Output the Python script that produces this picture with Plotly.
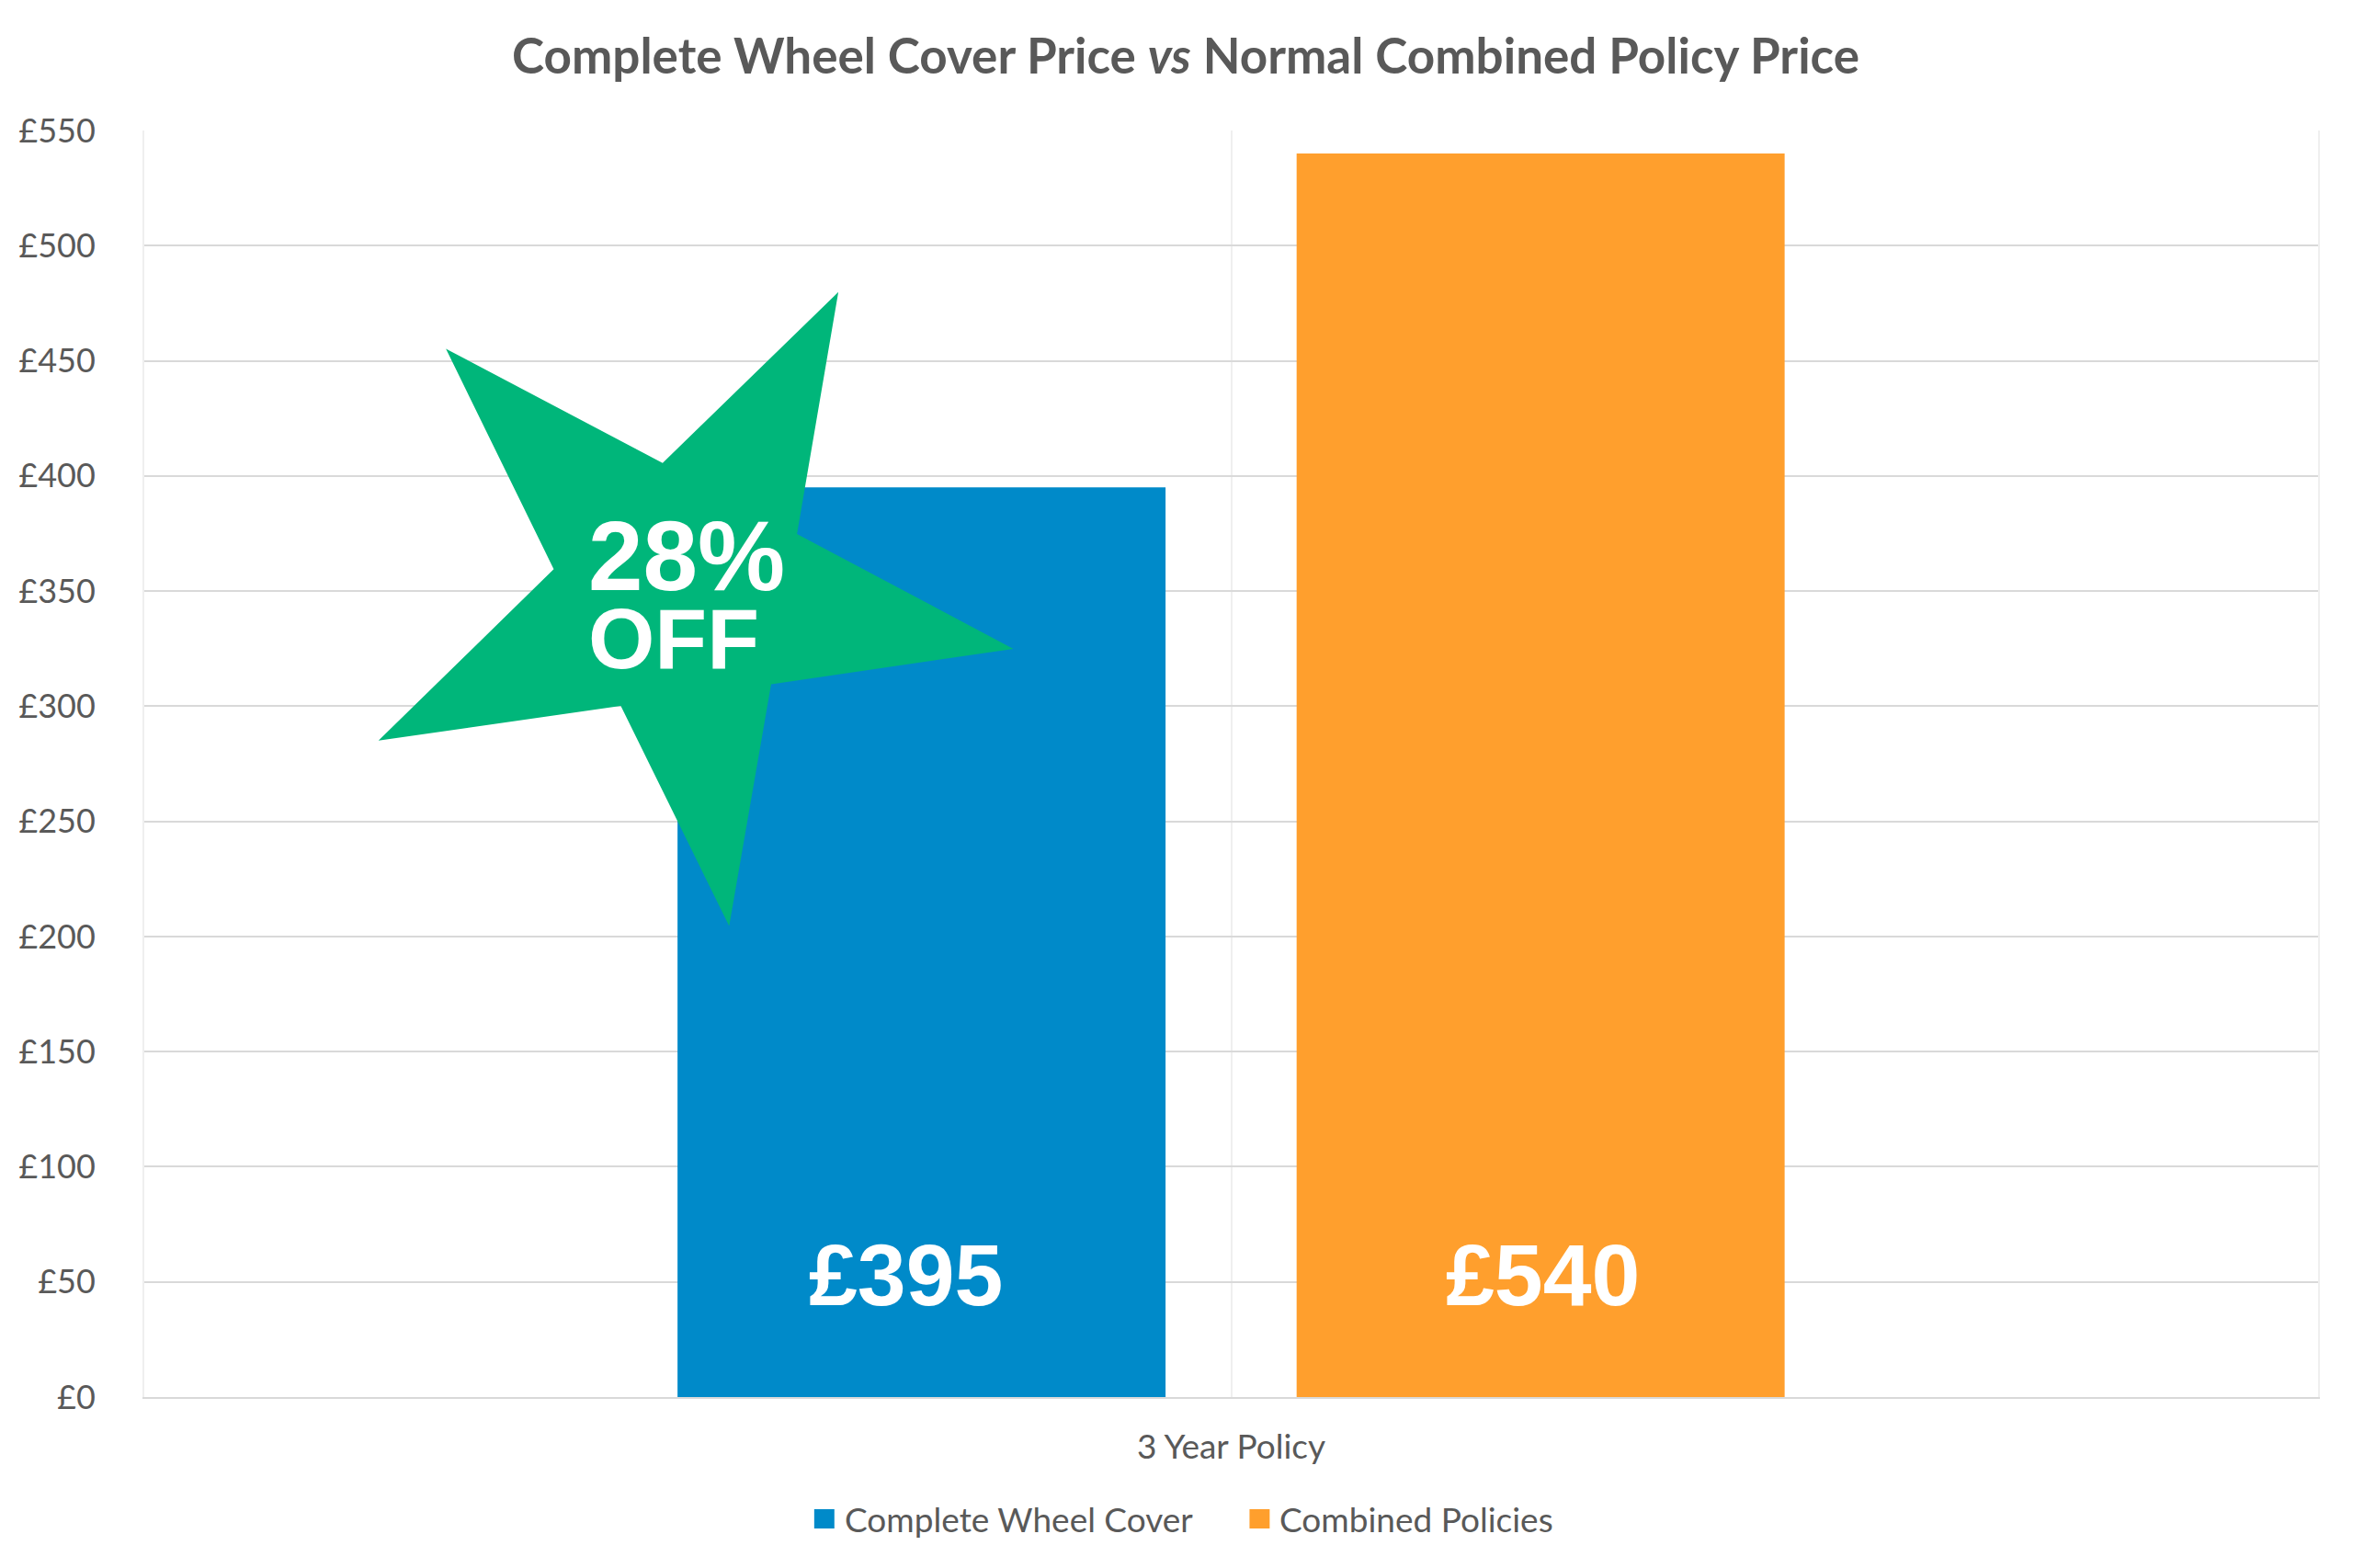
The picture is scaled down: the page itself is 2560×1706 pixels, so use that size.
import numpy as np
import plotly.graph_objects as go

# chart data
categories = ["3 Year Policy"]
series_names = ["Complete Wheel Cover", "Combined Policies"]
series_values = [[395], [540]]
series_colors = ["#008AC9", "#FF9F2D"]
y_ticks = [0, 50, 100, 150, 200, 250, 300, 350, 400, 450, 500, 550]
badge_lines = ["28%", "OFF"]

# the page body has an 8px margin, so the figure is 16px smaller than the window
OFF = 8
W, H = 2560 - 2 * OFF, 1706 - 2 * OFF
L, R, T, B = 142, 30, 134, 178
PW, PH = W - L - R, H - T - B
TEXT = "#595959"


def paper(x, y):
    # x, y are window pixels measured on the reference
    x, y = x - OFF, y - OFF
    return (x - L) / PW, (H - B - y) / PH


# bar slots within the single category (category units)
bar_offsets = [-0.2547, 0.0301]
bar_width = 0.2245
label_shift = [-17, 2]

fig = go.Figure()
for name, vals, col, off in zip(series_names, series_values, series_colors, bar_offsets):
    fig.add_trace(go.Bar(
        x=categories, y=vals, name=name,
        marker=dict(color=col, line=dict(width=0)),
        offset=off, width=bar_width,
        showlegend=False, hoverinfo="skip",
    ))

annotations = []
shapes = []

# value labels near the base of each bar
for vals, off, sh in zip(series_values, bar_offsets, label_shift):
    annotations.append(dict(
        x=off + bar_width / 2, y=53, xref="x", yref="y", xshift=sh,
        text="£%d" % vals[0], showarrow=False,
        font=dict(family="Liberation Sans, Arial", size=95, color="white", weight="bold"),
        xanchor="center", yanchor="middle",
    ))

# green star badge
cx, cy, r_out, r_in, a0 = 735.7, 643.3, 368, 141, -62.2
pts = []
for k in range(10):
    a = np.radians(a0 + 36 * k)
    rr = r_out if k % 2 == 0 else r_in
    pts.append(paper(cx + rr * np.cos(a), cy + rr * np.sin(a)))
path = "M " + " L ".join("%.5f,%.5f" % p for p in pts) + " Z"
shapes.append(dict(type="path", path=path, xref="paper", yref="paper",
                   fillcolor="#00B67A", line=dict(width=0), layer="above"))

# one text block, line spacing driven by the small base size
bx, by = paper(632, 646)
annotations.append(dict(
    x=bx, y=by, xref="paper", yref="paper", showarrow=False,
    xanchor="left", yanchor="middle", align="left",
    text="<span style='font-size:107px'>%s</span><br><span style='font-size:93px'>%s</span>" % tuple(badge_lines),
    font=dict(family="Liberation Sans, Arial", size=65, color="white", weight="bold"),
))

# legend drawn by hand so the swatches can be as big as the original
legend_x = [881, 1356]
for name, col, lx in zip(series_names, series_colors, legend_x):
    x0, y0 = paper(lx, 1663)
    x1, y1 = paper(lx + 22, 1642)
    shapes.append(dict(type="rect", xref="paper", yref="paper", x0=x0, y0=y0, x1=x1, y1=y1,
                       fillcolor=col, line=dict(width=0)))
    tx, ty = paper(lx + 31, 1652)
    annotations.append(dict(x=tx, y=ty, xref="paper", yref="paper", text=name, showarrow=False,
                            xanchor="left", yanchor="middle",
                            font=dict(family="Lato", size=37, color=TEXT)))

fig.update_layout(
    width=W, height=H,
    margin=dict(l=L, r=R, t=T, b=B),
    paper_bgcolor="white", plot_bgcolor="white",
    barmode="overlay",
    title=dict(
        text="<b>Complete Wheel Cover Price <i>vs</i> Normal Combined Policy Price</b>",
        x=0.5 + 10 / W, xref="container", xanchor="center",
        y=1 - (61 - OFF) / H, yref="container", yanchor="middle",
        font=dict(family="Lato", size=53, color=TEXT),
    ),
    xaxis=dict(
        type="category", showgrid=True, gridcolor="#EFEFEF", gridwidth=2,
        showline=True, linecolor="#D9D9D9", linewidth=2,
        ticks="", ticklabelstandoff=21,
        tickfont=dict(family="Lato", size=37, color=TEXT),
        range=[-0.5, 0.5], fixedrange=True,
    ),
    yaxis=dict(
        range=[0, 550], tickvals=y_ticks, ticktext=["£%d" % v for v in y_ticks],
        showgrid=True, gridcolor="#D9D9D9", gridwidth=2, zeroline=False,
        showline=True, mirror=True, linecolor="#EFEFEF", linewidth=2,
        ticks="", ticklabelstandoff=44,
        tickfont=dict(family="Lato", size=36, color=TEXT),
        fixedrange=True,
    ),
    annotations=annotations,
    shapes=shapes,
)

fig.write_html("out.html")
